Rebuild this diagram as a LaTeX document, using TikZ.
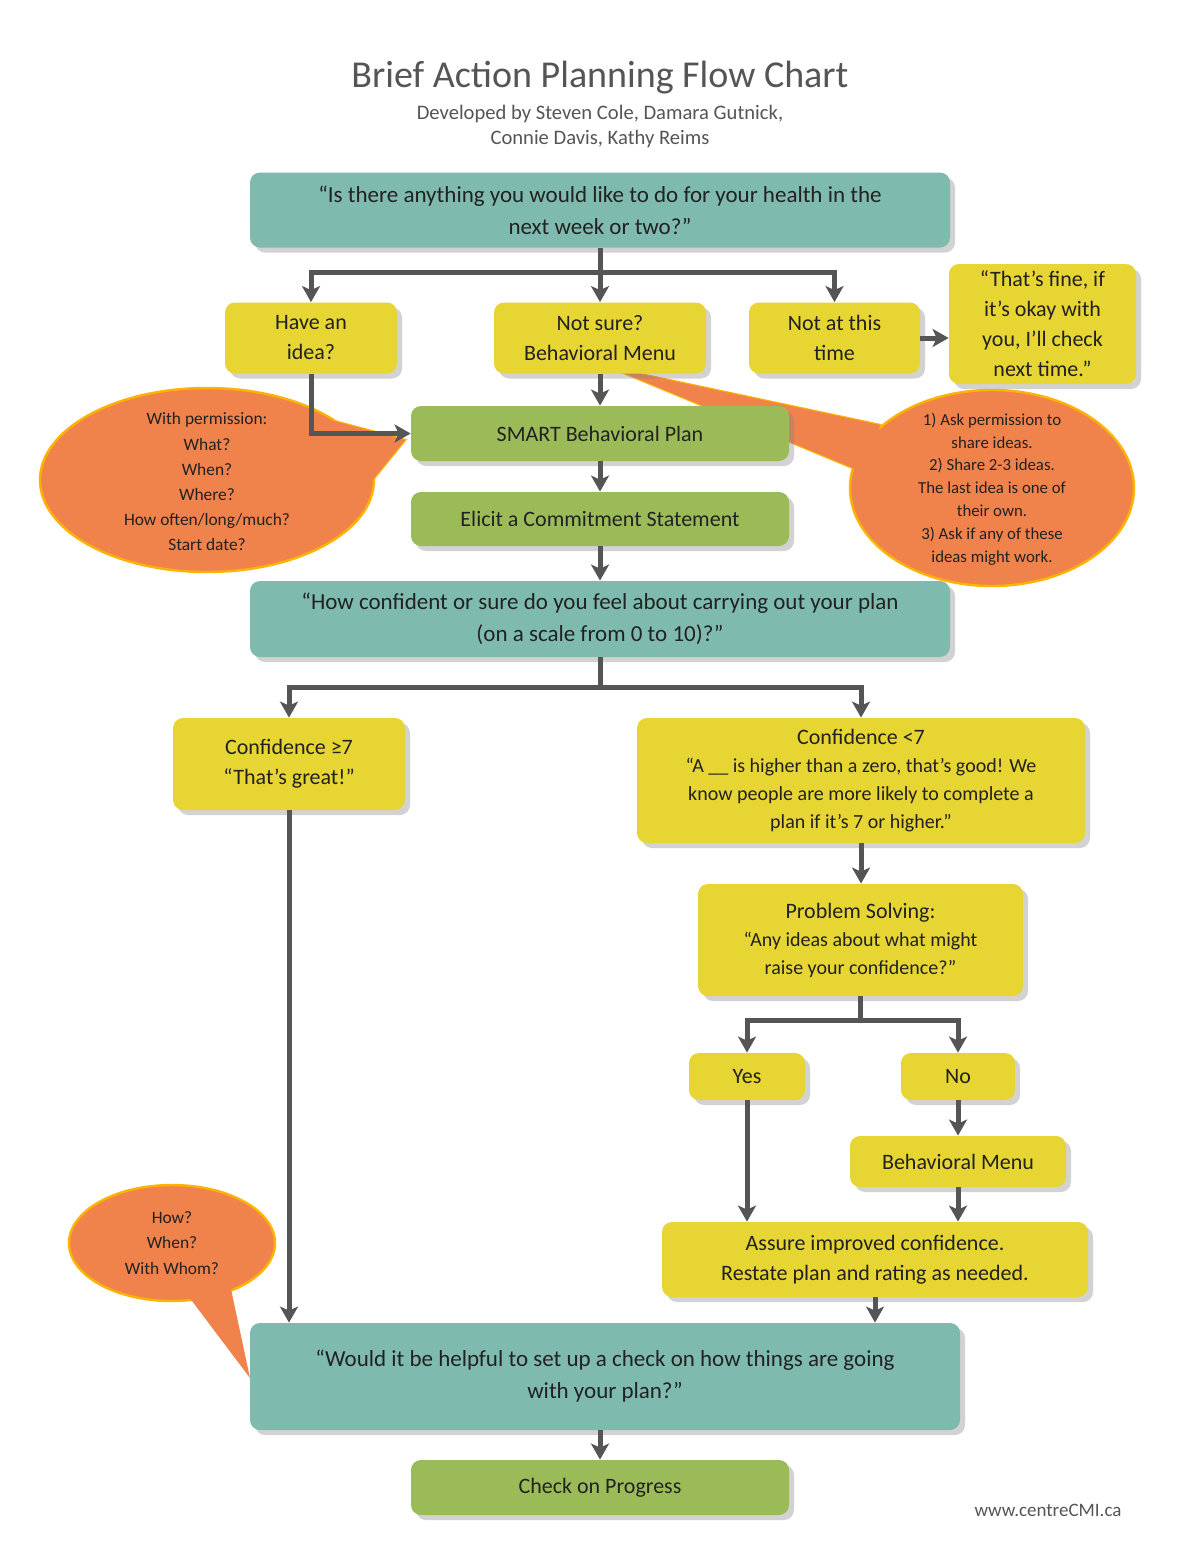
\documentclass[tikz,border=0pt]{standalone}
\usepackage{fontspec}
\setmainfont{Carlito}
\usetikzlibrary{shadows,arrows.meta,shapes.geometric}
\definecolor{teal1}{HTML}{7FBAAE}
\definecolor{yel}{HTML}{E6D532}
\definecolor{grn}{HTML}{9BBB59}
\definecolor{org}{HTML}{F0824C}
\definecolor{ln}{HTML}{555555}
\definecolor{tx}{HTML}{222222}
\tikzset{
 box/.style={rounded corners=5pt,draw=none,align=center,text=tx,inner sep=0pt,
   drop shadow={shadow xshift=2.5pt,shadow yshift=-2.5pt,opacity=0.35,fill=gray}},
 tbox/.style={box,fill=teal1,font=\fontsize{11.5}{16}\selectfont},
 ybox/.style={box,fill=yel,font=\fontsize{11}{15}\selectfont},
 gbox/.style={box,fill=grn,font=\fontsize{11}{15}\selectfont},
 conn/.style={draw=ln,line width=2.5pt,-{Stealth[length=8pt,width=9pt,inset=2pt]}},
 seg/.style={draw=ln,line width=2.5pt},
 bub/.style={fill=org,draw=orange!60!yellow,line width=1.2pt},
 btxt/.style={align=center,text=tx,font=\fontsize{8.7}{12.6}\selectfont},
}
\begin{document}
\begin{tikzpicture}[x=0.5pt,y=-0.5pt]
\useasboundingbox (0,0) rectangle (1200,1553);
\fill[white] (0,0) rectangle (1200,1553);
% title
\node[text=ln,font=\fontsize{19}{22}\selectfont] (title) at (600,78) {Brief Action Planning Flow Chart};
\node[text=ln,align=center,font=\fontsize{10.3}{12.5}\selectfont] (sub) at (600,127) {Developed by Steven Cole, Damara Gutnick,\\Connie Davis, Kathy Reims};
% callouts
\fill[bub] (405,440) -- (330,420) -- (340,520) -- cycle;
\draw[bub] (207,480) ellipse[x radius=167,y radius=92];
\fill[org] (405,440) -- (330,420) -- (340,520) -- cycle;
\node[btxt] (bl) at (207,482) {With permission:\\What?\\When?\\Where?\\How often/long/much?\\Start date?};
\fill[bub] (612,368) -- (880,425) -- (870,475) -- cycle;
\draw[bub] (992,488) ellipse[x radius=142,y radius=98];
\fill[org] (612,368) -- (880,425) -- (870,475) -- cycle;
\node[btxt,font=\fontsize{8.4}{11.4}\selectfont] (br) at (992,489) {1) Ask permission to\\share ideas.\\2) Share 2-3 ideas.\\The last idea is one of\\their own.\\3) Ask if any of these\\ideas might work.};
\draw[bub] (172,1243) ellipse[x radius=103,y radius=58];
\fill[org] (250,1378) -- (180,1285) -- (228,1275) -- cycle;
\node[btxt] (bb) at (172,1243) {How?\\When?\\With Whom?};
% boxes
\node[tbox,minimum width=350pt,minimum height=37.5pt] (q1) at (600,210) {“Is there anything you would like to do for your health in the\\next week or two?”};
\node[ybox,minimum width=86pt,minimum height=35.5pt] (idea) at (311,338) {Have an\\idea?};
\node[ybox,minimum width=106pt,minimum height=35.5pt] (ns) at (600,338) {Not sure?\\Behavioral Menu};
\node[ybox,minimum width=85.5pt,minimum height=35.5pt] (nt) at (834.5,338) {Not at this\\time};
\node[ybox,minimum width=93.5pt,minimum height=60pt] (fine) at (1042.5,324) {“That’s fine, if\\it’s okay with\\you, I’ll check\\next time.”};
\node[gbox,minimum width=189pt,minimum height=27.5pt] (smart) at (600,433.5) {SMART Behavioral Plan};
\node[gbox,minimum width=189pt,minimum height=27pt] (elicit) at (600,519) {Elicit a Commitment Statement};
\node[tbox,minimum width=350pt,minimum height=38pt] (q2) at (600,619) {“How confident or sure do you feel about carrying out your plan\\(on a scale from 0 to 10)?”};
\node[ybox,minimum width=116pt,minimum height=46pt] (c7) at (289,764) {Confidence ≥7\\“That’s great!”};
\node[ybox,minimum width=224pt,minimum height=62.5pt,font=\fontsize{10}{14}\selectfont] (cl) at (861,780.5) {{\fontsize{11}{15}\selectfont Confidence <7}\\“A \_\_ is higher than a zero, that’s good! We\\know people are more likely to complete a\\plan if it’s 7 or higher.”};
\node[ybox,minimum width=162.5pt,minimum height=56pt,font=\fontsize{10}{14}\selectfont] (ps) at (860.5,940) {{\fontsize{11}{15}\selectfont Problem Solving:}\\“Any ideas about what might\\raise your confidence?”};
\node[ybox,minimum width=58pt,minimum height=23.5pt] (yes) at (747,1076.5) {Yes};
\node[ybox,minimum width=57pt,minimum height=23.5pt] (no) at (958,1076.5) {No};
\node[ybox,minimum width=108pt,minimum height=25.5pt] (bm) at (958,1161.5) {Behavioral Menu};
\node[ybox,minimum width=213pt,minimum height=37.5pt] (as) at (875,1259.5) {Assure improved confidence.\\Restate plan and rating as needed.};
\node[tbox,minimum width=355pt,minimum height=53.5pt] (q3) at (605,1376.5) {“Would it be helpful to set up a check on how things are going\\with your plan?”};
\node[gbox,minimum width=189pt,minimum height=27.5pt] (chk) at (600,1487.5) {Check on Progress};
\node[text=ln,font=\fontsize{9.5}{12}\selectfont] (web) at (1048,1510) {www.centreCMI.ca};
% connectors
\coordinate (j1) at (600,272);
\draw[seg] (q1.south) -- (j1);
\draw[conn] (j1) -| (idea.north);
\draw[conn] (j1) -- (ns.north);
\draw[conn] (j1) -| (nt.north);
\draw[conn] (nt.east) -- (fine.west |- nt.east);
\draw[conn] (ns.south) -- (smart.north);
\draw[conn] (idea.south) |- (smart.west);
\draw[conn] (smart.south) -- (elicit.north);
\draw[conn] (elicit.south) -- (q2.north);
\coordinate (j2) at (600,687);
\draw[seg] (q2.south) -- (j2);
\draw[conn] (j2) -| (c7.north);
\draw[conn] (j2) -| (cl.north);
\draw[conn] (c7.south) -- (c7.south |- q3.north);
\draw[conn] (cl.south) -- (cl.south |- ps.north);
\coordinate (j3) at (860.5,1020);
\draw[seg] (ps.south) -- (j3);
\draw[conn] (j3) -| (yes.north);
\draw[conn] (j3) -| (no.north);
\draw[conn] (yes.south) -- (yes.south |- as.north);
\draw[conn] (no.south) -- (bm.north);
\draw[conn] (bm.south) -- (bm.south |- as.north);
\draw[conn] (as.south) -- (as.south |- q3.north);
\draw[conn] (q3.south -| chk.north) -- (chk.north);
\end{tikzpicture}
\end{document}
